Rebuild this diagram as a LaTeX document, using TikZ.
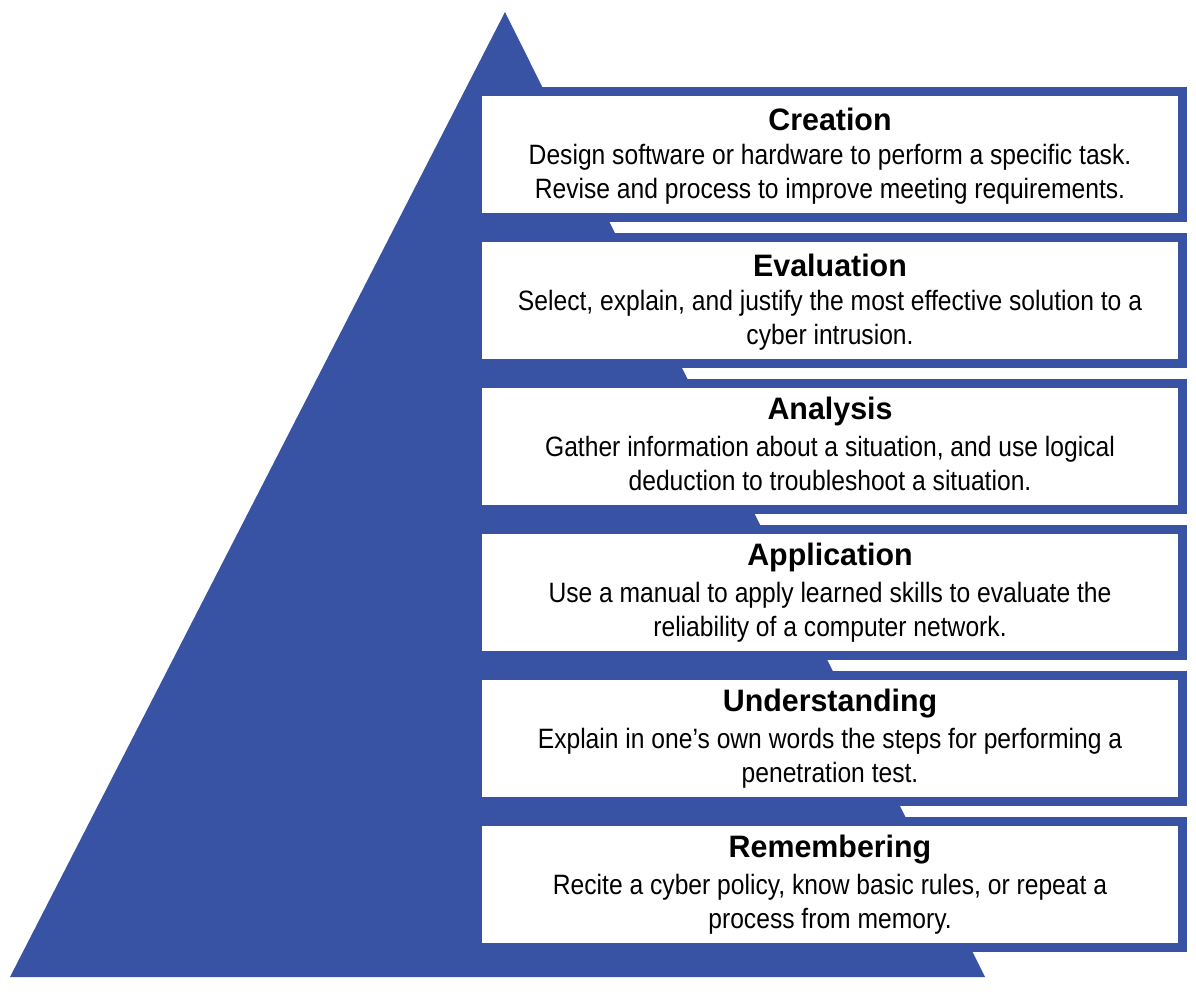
\documentclass[tikz,border=0pt]{standalone}
\usepackage{fontspec}
\setmainfont{Liberation Sans}
\definecolor{pblue}{HTML}{3953A4}
\tikzset{
  lvlbox/.style={draw=pblue, line width=9pt, fill=white},
  ttl/.style={font=\fontsize{31}{34}\selectfont\bfseries, xscale=0.98, transform shape, anchor=center},
  body/.style={font=\fontsize{28}{34}\selectfont, align=center, xscale=0.88, transform shape, anchor=north}
}
\begin{document}
\begin{tikzpicture}[x=1pt,y=-1pt]
\useasboundingbox (0,0) rectangle (1196,1007);
\fill[pblue] (505,12) coordinate (apex) -- (985,977) coordinate (br) -- (10,977) coordinate (bl) -- cycle;
\foreach \i/\t/\a/\b in {
 0/Creation/{Design software or hardware to perform a specific task.}/{Revise and process to improve meeting requirements.},
 1/Evaluation/{Select, explain, and justify the most effective solution to a}/{cyber intrusion.},
 2/Analysis/{Gather information about a situation, and use logical}/{deduction to troubleshoot a situation.},
 3/Application/{Use a manual to apply learned skills to evaluate the}/{reliability of a computer network.},
 4/Understanding/{Explain in one’s own words the steps for performing a}/{penetration test.},
 5/Remembering/{Recite a cyber policy, know basic rules, or repeat a}/{process from memory.}}{
  \pgfmathsetmacro{\yt}{91.5+146*\i}
  \draw[lvlbox] (477.5,\yt) rectangle (1182.5,\yt+126) node[pos=0,coordinate] (box\i) {};
  \node[ttl] (t\i) at (830,\yt+28) {\t};
  \node[body] (d\i) at (830,\yt+49) {\a\\\b};
}
\end{tikzpicture}
\end{document}
